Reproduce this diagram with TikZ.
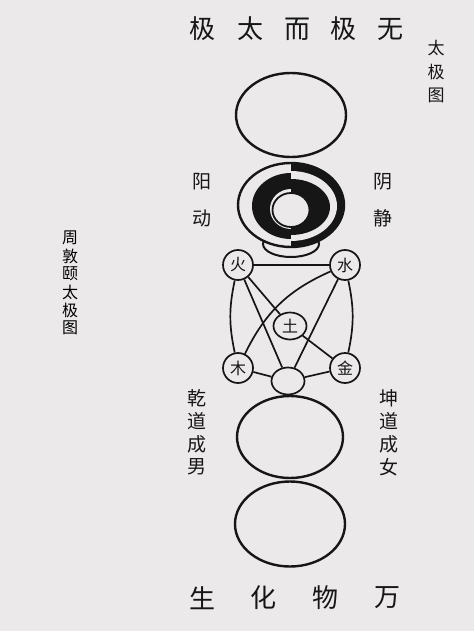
\documentclass[tikz,border=0pt]{standalone}
\usepackage{fontspec}
\newfontfamily\cjk{Noto Sans CJK SC}
\usetikzlibrary{shapes.geometric}
\definecolor{paper}{RGB}{236,233,234}
\definecolor{ink}{RGB}{22,22,22}
\begin{document}
\begin{tikzpicture}[x=1pt,y=-1pt,
  bigring/.style={draw=ink,line width=2.4pt,ellipse,inner sep=0pt},
  elem/.style={draw=ink,line width=1.7pt,circle,minimum size=30pt,inner sep=0pt,fill=paper,text=ink,font=\cjk\fontsize{16}{16}\selectfont},
  elemov/.style={draw=ink,line width=1.7pt,ellipse,minimum width=33pt,minimum height=27pt,inner sep=0pt,fill=paper,text=ink,font=\cjk\fontsize{16}{16}\selectfont},
  link/.style={draw=ink,line width=1.7pt},
  bigtxt/.style={text=ink,inner sep=0pt,font=\cjk\fontsize{26}{26}\selectfont},
  sidetxt/.style={text=ink,inner sep=0pt,font=\cjk\fontsize{19}{19}\selectfont},
  smalltxt/.style={text=ink,inner sep=0pt,font=\cjk\fontsize{17}{17}\selectfont},
  lefttxt/.style={text=black,inner sep=0pt,font=\cjk\fontsize{16}{16}\selectfont}]
\fill[paper] (0,0) rectangle (474,631);
\useasboundingbox (0,0) rectangle (474,631);

% title
\foreach \ch/\x [count=\i] in {极/202,太/250,而/297,极/343,无/390}
  \node[bigtxt,name=t\i] at (\x,29) {\ch};
% right vertical label
\foreach \ch/\y [count=\i] in {太/48,极/72,图/95}
  \node[smalltxt,name=r\i] at (436,\y) {\ch};
% left vertical label
\foreach \ch [count=\i] in {周,敦,颐,太,极,图}
  \node[lefttxt,name=z\i] at (70,220+18*\i) {\ch};

% first circle
\node[bigring,minimum width=110pt,minimum height=84pt] (wuji) at (291,115) {};

% yin-yang circle
\draw[ink,line width=2pt,fill=paper] (291,244) ellipse [x radius=28,y radius=13];
\fill[paper] (291,205) ellipse [x radius=53,y radius=42];
\begin{scope}
  \clip (220,150) rectangle (291,262);
  \fill[ink] (291,206) ellipse [x radius=39,y radius=33];
  \fill[paper] (291,209) ellipse [x radius=21,y radius=20];
\end{scope}
\begin{scope}
  \clip (291,150) rectangle (360,262);
  \fill[ink] (291,205) ellipse [x radius=53,y radius=42];
  \fill[paper] (291,206) ellipse [x radius=46,y radius=35];
  \fill[ink] (291,207) ellipse [x radius=39,y radius=28];
\end{scope}
\draw[ink,line width=1.8pt,fill=paper] (291,210) ellipse [x radius=18.5,y radius=17];
\draw[ink,line width=2.4pt] (291,205) ellipse [x radius=53,y radius=42];

\node[sidetxt] (yang) at (202,182) {阳};
\node[sidetxt] (dong) at (202,218) {动};
\node[sidetxt] (yin)  at (383,182) {阴};
\node[sidetxt] (jing) at (383,218) {静};

% five elements
\node[elem] (fire)  at (238,265) {火};
\node[elem] (water) at (345,265) {水};
\node[elemov] (earth) at (290,326) {土};
\node[elem] (wood)  at (238,368) {木};
\node[elem] (metal) at (345,368) {金};
\node[elemov] (base) at (288,381) {};

\draw[link] (fire) -- (water);
\draw[link] (fire) to[bend right=12] (wood);
\draw[link] (water) to[bend left=12] (metal);
\draw[link] (fire) -- (earth);
\draw[link] (earth) -- (metal);
\draw[link] (water) to[bend right=20] (wood);
\draw[link] (fire) -- (base);
\draw[link] (water) -- (base);
\draw[link] (wood) -- (base);
\draw[link] (metal) -- (base);

% lower circles
\node[bigring,minimum width=106pt,minimum height=82pt] (qiankun) at (290,437) {};
\node[bigring,minimum width=110pt,minimum height=85pt] (wanwu) at (290,524) {};

\foreach \ch/\y [count=\i] in {乾/398,道/421,成/444,男/467}
  \node[sidetxt,name=q\i] at (197,\y) {\ch};
\foreach \ch/\y [count=\i] in {坤/398,道/421,成/444,女/467}
  \node[sidetxt,name=k\i] at (389,\y) {\ch};

% bottom line
\foreach \ch/\x [count=\i] in {生/202,化/263,物/325,万/387}
  \node[bigtxt,name=b\i] at (\x,598) {\ch};
\end{tikzpicture}
\end{document}
